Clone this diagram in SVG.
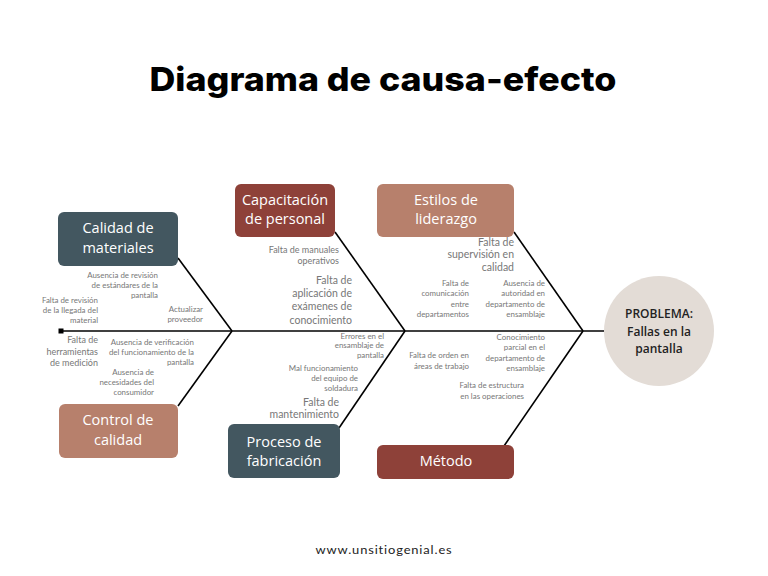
<svg xmlns="http://www.w3.org/2000/svg" width="768" height="576" viewBox="0 0 768 576">
<style>
.bg{fill:#ffffff}
.title{font-family:Inter,"Open Sans","Liberation Sans",sans-serif;font-weight:800;font-size:33px;fill:#000}
.box{stroke:none}
.slate{fill:#435760}
.rust{fill:#8e4139}
.tan{fill:#b7806c}
.bt{font-family:"Open Sans","Liberation Sans",sans-serif;font-size:14.5px;font-weight:500;fill:#fff;text-anchor:middle}
.pt{font-family:"Open Sans","Liberation Sans",sans-serif;font-size:12px;font-weight:600;fill:#222;text-anchor:middle}
.s7{font-family:"Lato","Liberation Sans",sans-serif;font-size:7.9px;fill:#777;text-anchor:end}
.s8{font-family:"Lato","Liberation Sans",sans-serif;font-size:9px;fill:#777;text-anchor:end}
.s10{font-family:"Lato","Liberation Sans",sans-serif;font-size:10.5px;fill:#777;text-anchor:end}
.ln{stroke:#000;stroke-width:1.6;fill:none}
.foot{font-family:"Lato","Liberation Sans",sans-serif;font-size:12px;fill:#222;text-anchor:middle;letter-spacing:0.8px}
</style>
<rect class="bg" x="0" y="0" width="768" height="576"/>
<text class="title" x="383" y="91" text-anchor="middle" textLength="467" lengthAdjust="spacingAndGlyphs">Diagrama de causa-efecto</text>

<g id="connectors">
<line class="ln" x1="61" y1="331" x2="604" y2="331"/>
<rect x="58.5" y="328.5" width="5" height="5" fill="#000"/>
<line class="ln" x1="178" y1="258" x2="232" y2="331"/>
<line class="ln" x1="178" y1="406" x2="232" y2="331"/>
<line class="ln" x1="335" y1="232" x2="405" y2="331"/>
<line class="ln" x1="339" y1="428" x2="405" y2="331"/>
<line class="ln" x1="514" y1="232" x2="583" y2="331"/>
<line class="ln" x1="504" y1="446" x2="583" y2="331"/>
</g>

<g id="calidad-materiales">
<rect class="box slate" x="58" y="212" width="120" height="54" rx="6"/>
<text class="bt" x="118" y="233">Calidad de</text>
<text class="bt" x="118" y="253">materiales</text>
</g>
<g id="control-calidad">
<rect class="box tan" x="59" y="404" width="119" height="54" rx="6"/>
<text class="bt" x="118" y="425">Control de</text>
<text class="bt" x="118" y="445">calidad</text>
</g>
<g id="capacitacion">
<rect class="box rust" x="235" y="184" width="100" height="53" rx="6"/>
<text class="bt" x="285" y="205">Capacitación</text>
<text class="bt" x="285" y="224">de personal</text>
</g>
<g id="proceso">
<rect class="box slate" x="228" y="424" width="112" height="54" rx="6"/>
<text class="bt" x="284" y="447">Proceso de</text>
<text class="bt" x="284" y="466">fabricación</text>
</g>
<g id="estilos">
<rect class="box tan" x="377" y="184" width="137" height="53" rx="6"/>
<text class="bt" x="446" y="205">Estilos de</text>
<text class="bt" x="446" y="224">liderazgo</text>
</g>
<g id="metodo">
<rect class="box rust" x="377" y="445" width="137" height="34" rx="6"/>
<text class="bt" x="446" y="466">Método</text>
</g>
<g id="problema">
<circle cx="659" cy="331" r="55" fill="#e3dcd6"/>
<text class="pt" x="659" y="318">PROBLEMA:</text>
<text class="pt" x="659" y="336">Fallas en la</text>
<text class="pt" x="659" y="353">pantalla</text>
</g>

<g id="causas">
<text class="s7" x="158" y="278">Ausencia de revisión</text>
<text class="s7" x="158" y="288">de estándares de la</text>
<text class="s7" x="158" y="298">pantalla</text>
<text class="s7" x="98" y="303">Falta de revisión</text>
<text class="s7" x="98" y="313">de la llegada del</text>
<text class="s7" x="98" y="323">material</text>
<text class="s7" x="203" y="312">Actualizar</text>
<text class="s7" x="203" y="322">proveedor</text>

<text class="s8" x="98" y="343">Falta de</text>
<text class="s8" x="98" y="355">herramientas</text>
<text class="s8" x="98" y="366">de medición</text>
<text class="s7" x="194" y="345">Ausencia de verificación</text>
<text class="s7" x="194" y="355">del funcionamiento de la</text>
<text class="s7" x="194" y="365">pantalla</text>
<text class="s7" x="154" y="375">Ausencia de</text>
<text class="s7" x="154" y="385">necesidades del</text>
<text class="s7" x="154" y="395">consumidor</text>

<text class="s8" x="339" y="253">Falta de manuales</text>
<text class="s8" x="339" y="264">operativos</text>
<text class="s10" x="352" y="284">Falta de</text>
<text class="s10" x="352" y="297">aplicación de</text>
<text class="s10" x="352" y="310">exámenes de</text>
<text class="s10" x="352" y="324">conocimiento</text>

<text class="s7" x="384" y="339">Errores en el</text>
<text class="s7" x="384" y="348">ensamblaje de</text>
<text class="s7" x="384" y="358">pantalla</text>
<text class="s7" x="358" y="371">Mal funcionamiento</text>
<text class="s7" x="358" y="381">del equipo de</text>
<text class="s7" x="358" y="391">soldadura</text>
<text class="s10" x="339" y="406">Falta de</text>
<text class="s10" x="339" y="418">mantenimiento</text>

<text class="s10" x="514" y="246">Falta de</text>
<text class="s10" x="514" y="258">supervisión en</text>
<text class="s10" x="514" y="271">calidad</text>
<text class="s7" x="469" y="286">Falta de</text>
<text class="s7" x="469" y="296">comunicación</text>
<text class="s7" x="469" y="307">entre</text>
<text class="s7" x="469" y="317">departamentos</text>
<text class="s7" x="545" y="286">Ausencia de</text>
<text class="s7" x="545" y="296">autoridad en</text>
<text class="s7" x="545" y="307">departamento de</text>
<text class="s7" x="545" y="317">ensamblaje</text>

<text class="s7" x="545" y="340">Conocimiento</text>
<text class="s7" x="545" y="350">parcial en el</text>
<text class="s7" x="545" y="361">departamento de</text>
<text class="s7" x="545" y="371">ensamblaje</text>
<text class="s7" x="469" y="358">Falta de orden en</text>
<text class="s7" x="469" y="369">áreas de trabajo</text>
<text class="s7" x="524" y="388">Falta de estructura</text>
<text class="s7" x="524" y="399">en las operaciones</text>
</g>

<text class="foot" x="384" y="554" textLength="137" lengthAdjust="spacingAndGlyphs">www.unsitiogenial.es</text>
</svg>
